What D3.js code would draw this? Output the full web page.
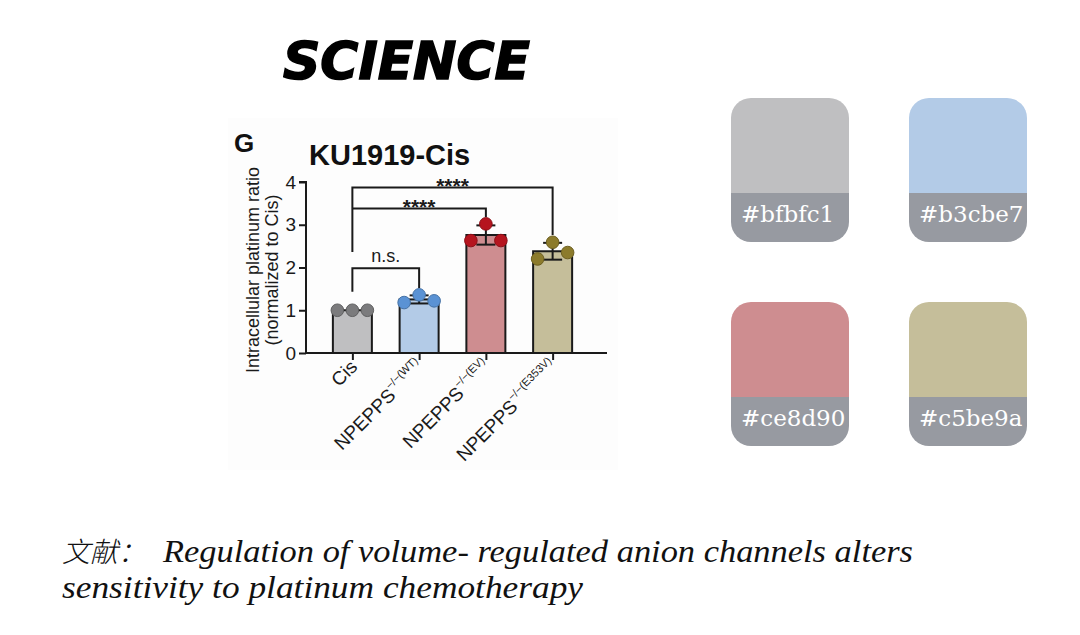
<!DOCTYPE html>
<html>
<head>
<meta charset="utf-8">
<script src="https://cdn.jsdelivr.net/npm/d3@7"></script>
<style>
  html, body { margin: 0; padding: 0; background: #ffffff; }
  svg { display: block; }
</style>
</head>
<body>
<svg id="chart" width="1080" height="635"></svg>
<script>
// ---------------- data ----------------
const categories = ["Cis", "NPEPPS-/-(WT)", "NPEPPS-/-(EV)", "NPEPPS-/-(E353V)"];
const labelMain = ["Cis", "NPEPPS", "NPEPPS", "NPEPPS"];
const labelSup = ["", "\u2212/\u2212(WT)", "\u2212/\u2212(EV)", "\u2212/\u2212(E353V)"];
const replicateValues = [
  [1.00, 1.00, 1.00],
  [1.18, 1.36, 1.22],
  [2.63, 3.02, 2.63],
  [2.20, 2.59, 2.35]
];
const barColors = ["#bfbfc1", "#b3cbe7", "#ce8d90", "#c5be9a"];
const pointColors = ["#7b7b7d", "#5a92d4", "#b5151f", "#8c7b2c"];
const yTicks = [0, 1, 2, 3, 4];
// significance brackets: from/to category index, bar level, leg bottoms (data units)
const brackets = [
  { from: 0, to: 1, level: 1.98, leftEnd: 1.43, rightEnd: 1.52, label: "n.s." },
  { from: 0, to: 2, level: 3.38, leftEnd: 3.38, rightEnd: 3.18, label: "****" },
  { from: 0, to: 3, level: 3.87, leftEnd: 2.36, rightEnd: 2.76, label: "****" }
];
const swatchHex = ["#bfbfc1", "#b3cbe7", "#ce8d90", "#c5be9a"];
const chartTitle = "KU1919-Cis";
const panelLetter = "G";
const yTitle = ["Intracellular platinum ratio", "(normalized to Cis)"];
const captionLines = ["Regulation of volume- regulated anion channels alters", "sensitivity to platinum chemotherapy"];
const captionPrefix = "文献：";

// ---------------- drawing ----------------
const svg = d3.select("#chart");
const ARIAL = "'Liberation Sans', Arial, Helvetica, sans-serif";
const INK = "#1a1a1a";

// logo
svg.append("text")
  .attr("x", 283).attr("y", 79)
  .attr("font-family", "'DejaVu Sans', sans-serif")
  .attr("font-weight", 900).attr("font-style", "italic")
  .attr("font-size", 52)
  .attr("textLength", 247).attr("lengthAdjust", "spacingAndGlyphs")
  .attr("fill", "#000").attr("stroke", "#000").attr("stroke-width", 1.6)
  .text("SCIENCE");

// pasted figure background
svg.append("rect").attr("x", 228).attr("y", 118).attr("width", 390).attr("height", 352)
  .attr("fill", "#fdfdfd");

const x = d3.scalePoint().domain(categories).range([319, 586]).padding(0.5);
const y = d3.scaleLinear().domain([0, 4]).range([353, 182]);
const barW = 39;
const axisLeft = 306, axisRight = 607;

const g = svg.append("g");

// bars
const stats = categories.map((c, i) => {
  const vals = replicateValues[i];
  return { c, i, mean: d3.mean(vals), sd: d3.deviation(vals) || 0, vals };
});

g.selectAll("rect.bar").data(stats).join("rect")
  .attr("class", "bar")
  .attr("x", d => x(d.c) - barW / 2)
  .attr("y", d => y(d.mean))
  .attr("width", barW)
  .attr("height", d => y(0) - y(d.mean))
  .attr("fill", d => barColors[d.i])
  .attr("stroke", INK).attr("stroke-width", 2);

// error bars
const capW = 19;
stats.forEach(d => {
  if (d.sd <= 0) return;
  const cx = x(d.c);
  const eg = g.append("g").attr("stroke", INK).attr("stroke-width", 2);
  eg.append("line").attr("x1", cx).attr("x2", cx).attr("y1", y(d.mean + d.sd)).attr("y2", y(d.mean - d.sd));
  eg.append("line").attr("x1", cx - capW / 2).attr("x2", cx + capW / 2).attr("y1", y(d.mean + d.sd)).attr("y2", y(d.mean + d.sd));
  eg.append("line").attr("x1", cx - capW / 2).attr("x2", cx + capW / 2).attr("y1", y(d.mean - d.sd)).attr("y2", y(d.mean - d.sd));
});

// points
const offs = [-15, 0, 15];
stats.forEach(d => {
  g.selectAll(null).data(d.vals).join("circle")
    .attr("cx", (v, k) => x(d.c) + offs[k])
    .attr("cy", v => y(v))
    .attr("r", 6.3)
    .attr("fill", pointColors[d.i])
    .attr("stroke", d3.color(pointColors[d.i]).darker(0.7))
    .attr("stroke-width", 1);
});

// axes
const yAxis = d3.axisLeft(y).tickValues(yTicks).tickSize(7).tickPadding(3).tickFormat(d3.format("d"));
const ya = svg.append("g").attr("transform", `translate(${axisLeft},0)`).call(yAxis);
ya.select(".domain").attr("stroke", INK).attr("stroke-width", 2).attr("d", `M-7,${y(4)}H0V${y(0)}`);
ya.selectAll(".tick line").attr("stroke", INK).attr("stroke-width", 2);
ya.selectAll(".tick text").attr("font-family", ARIAL).attr("font-size", 19).attr("fill", INK);

const xAxis = d3.axisBottom(x).tickSize(7).tickFormat("");
const xa = svg.append("g").attr("transform", `translate(0,${y(0)})`).call(xAxis);
xa.select(".domain").attr("stroke", INK).attr("stroke-width", 2).attr("d", `M${axisLeft - 1},0H${axisRight}`);
xa.selectAll(".tick line").attr("stroke", INK).attr("stroke-width", 2);

// x labels
categories.forEach((c, i) => {
  const t = svg.append("text")
    .attr("transform", `translate(${x(c) + 6},${y(0) + 15}) rotate(-45)`)
    .attr("text-anchor", "end")
    .attr("font-family", ARIAL).attr("fill", INK);
  t.append("tspan").attr("font-size", 19).text(labelMain[i]);
  if (labelSup[i]) {
    t.append("tspan").attr("font-size", 11).attr("dy", "-0.85em").text(labelSup[i]);
  }
});

// brackets
const bg = svg.append("g").attr("stroke", INK).attr("stroke-width", 2).attr("fill", "none");
brackets.forEach(b => {
  const x1 = x(categories[b.from]), x2 = x(categories[b.to]);
  bg.append("path").attr("d", `M${x1},${y(b.leftEnd)}V${y(b.level)}H${x2}V${y(b.rightEnd)}`);
  const lab = svg.append("text")
    .attr("x", (x1 + x2) / 2)
    .attr("text-anchor", "middle")
    .attr("font-family", ARIAL).attr("fill", INK);
  if (b.label === "n.s.") {
    lab.attr("y", y(b.level) - 6).attr("font-size", 18).text(b.label);
  } else {
    lab.attr("y", y(b.level) + 5).attr("font-size", 21).attr("font-weight", "bold").text(b.label);
  }
});

// title + panel letter
svg.append("text").attr("x", 309).attr("y", 165).attr("font-family", ARIAL).attr("font-weight", "bold")
  .attr("font-size", 29).attr("fill", "#111").text(chartTitle);
svg.append("text").attr("x", 234).attr("y", 152).attr("font-family", ARIAL).attr("font-weight", "bold")
  .attr("font-size", 26).attr("fill", "#111").text(panelLetter);

// y title
yTitle.forEach((line, k) => {
  svg.append("text")
    .attr("transform", `translate(${259 + k * 19},270) rotate(-90)`)
    .attr("text-anchor", "middle")
    .attr("font-family", ARIAL).attr("font-size", 18).attr("fill", INK)
    .text(line);
});

// swatches
const swX = [731, 909], swY = [98, 302];
const swW = 118, swH = 144, swTop = 95;
const defs = svg.append("defs");
swatchHex.forEach((hex, i) => {
  const sx = swX[i % 2], sy = swY[Math.floor(i / 2)];
  const id = "clip" + i;
  defs.append("clipPath").attr("id", id).append("rect")
    .attr("x", sx).attr("y", sy).attr("width", swW).attr("height", swH).attr("rx", 20).attr("ry", 20);
  const sg = svg.append("g").attr("clip-path", `url(#${id})`);
  sg.append("rect").attr("x", sx).attr("y", sy).attr("width", swW).attr("height", swTop).attr("fill", hex);
  sg.append("rect").attr("x", sx).attr("y", sy + swTop).attr("width", swW).attr("height", swH - swTop).attr("fill", "#979aa1");
  svg.append("text").attr("x", sx + 10).attr("y", sy + 124)
    .attr("font-family", "'DejaVu Serif', serif").attr("font-size", 23).attr("fill", "#ffffff")
    .text(hex);
});

// caption
svg.append("text").attr("x", 62).attr("y", 562)
  .attr("font-family", "'Noto Sans CJK SC', sans-serif").attr("font-style", "italic")
  .attr("font-size", 28).attr("font-weight", 300).attr("fill", "#111")
  .attr("textLength", 84).attr("lengthAdjust", "spacingAndGlyphs")
  .text(captionPrefix);
const capLen = [750, 521];
captionLines.forEach((line, k) => {
  svg.append("text").attr("x", k === 0 ? 163 : 62).attr("y", 562 + k * 36)
    .attr("font-family", "'Liberation Serif', 'Times New Roman', serif").attr("font-style", "italic")
    .attr("font-size", 32).attr("fill", "#111")
    .attr("textLength", capLen[k]).attr("lengthAdjust", "spacingAndGlyphs")
    .text(line);
});
</script>
</body>
</html>
